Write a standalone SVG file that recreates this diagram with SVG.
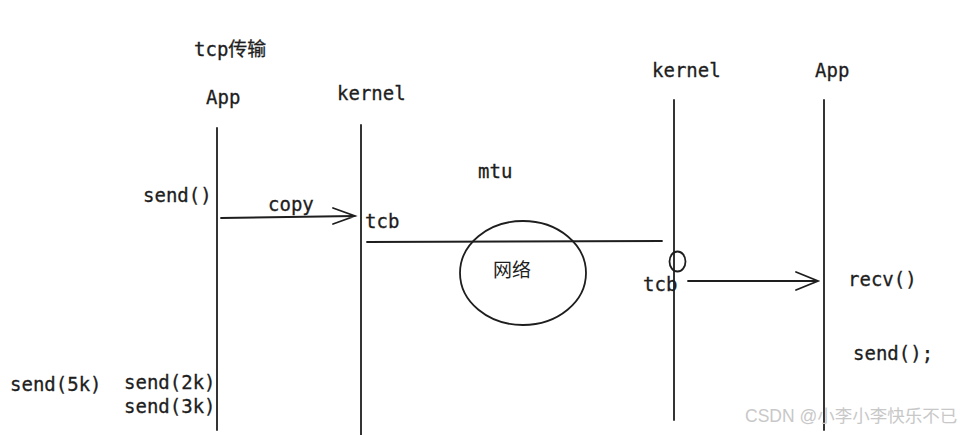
<svg xmlns="http://www.w3.org/2000/svg" width="970" height="435" viewBox="0 0 970 435">
<defs>
<style>
.t{font-family:"DejaVu Sans Mono","Liberation Mono","Noto Sans CJK SC",monospace;font-size:19px;fill:#1e1e1e;stroke:#1e1e1e;stroke-width:0.3}
.l{stroke:#1e1e1e;stroke-width:1.8;fill:none;stroke-linecap:round}
.wm{font-family:"Liberation Sans","Noto Sans CJK SC",sans-serif;font-size:17.5px;fill:#c8c8c8}
</style>
</defs>
<rect width="970" height="435" fill="#fff"/>
<g id="title"><text class="t" x="194" y="56">tcp传输</text></g>
<g id="app-left">
<text class="t" x="206" y="104">App</text>
<line class="l" x1="217" y1="128" x2="217" y2="430"/>
<text class="t" x="143" y="202">send()</text>
<text class="t" x="10" y="391">send(5k)</text>
<text class="t" x="124" y="389">send(2k)</text>
<text class="t" x="124" y="413">send(3k)</text>
</g>
<g id="kernel-left">
<text class="t" x="337" y="100">kernel</text>
<line class="l" x1="361" y1="125" x2="361" y2="435"/>
<text class="t" x="365" y="228">tcb</text>
</g>
<g id="network">
<text class="t" x="478" y="178">mtu</text>
<ellipse class="l" cx="523" cy="273" rx="63" ry="52"/>
<text class="t" x="493" y="277" style="stroke-width:0">网络</text>
</g>
<g id="kernel-right">
<text class="t" x="652" y="77">kernel</text>
<line class="l" x1="674" y1="100" x2="674" y2="420"/>
<ellipse class="l" cx="677.5" cy="261.5" rx="8" ry="10"/>
<text class="t" x="643" y="291">tcb</text>
</g>
<g id="app-right">
<text class="t" x="815" y="77">App</text>
<line class="l" x1="824" y1="100" x2="824" y2="430"/>
<text class="t" x="848" y="286">recv()</text>
<text class="t" x="853" y="360">send();</text>
</g>
<g id="connectors">
<path class="l" d="M221 218 L355 216 M333 208 L355 216 L333 224"/>
<text class="t" x="268" y="211">copy</text>
<path class="l" d="M367 242 L662 241"/>
<path class="l" d="M688 281 L818 281 M796 272 L818 281 L796 290"/>
</g>
<text class="wm" x="745" y="422">CSDN @小李小李快乐不已</text>
</svg>
